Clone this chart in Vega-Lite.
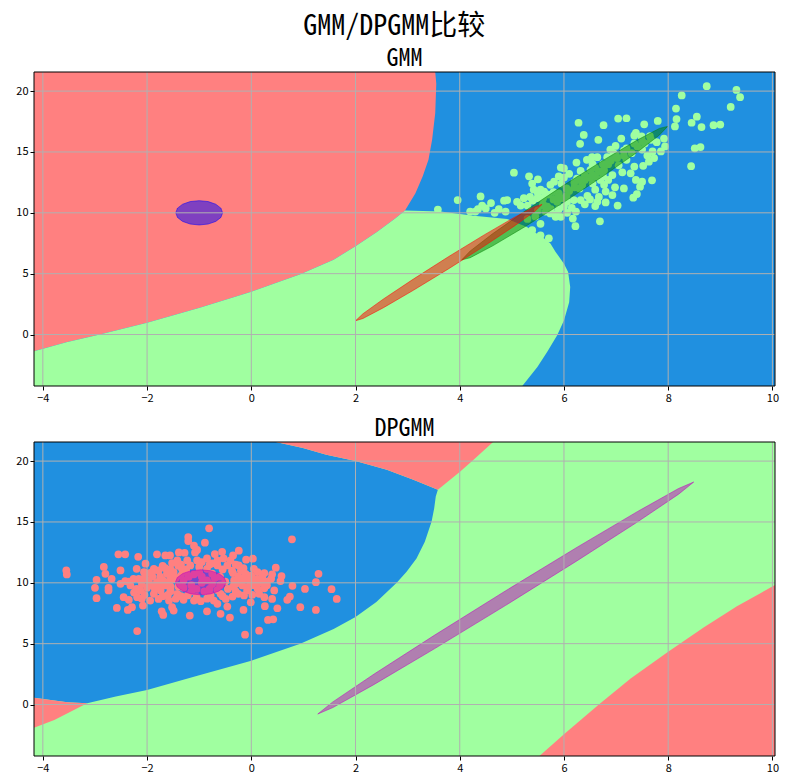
{"$schema":"https://vega.github.io/schema/vega-lite/v6.json","padding":{"left":15,"top":12,"right":5,"bottom":5},"title":{"text":"GMM/DPGMM比较","fontSize":28,"font":"Noto Sans Mono CJK SC, Noto Sans CJK SC","fontWeight":"normal","anchor":"middle","offset":6,"dx":-3},"config":{"view":{"stroke":null},"title":{"font":"Noto Sans Mono CJK SC, Noto Sans CJK SC","fontWeight":"normal"},"axis":{"grid":false,"domain":false,"tickColor":"#000","tickSize":4,"labelFont":"Noto Sans CJK SC","labelFontSize":11,"labelColor":"#000","title":null}},
"datasets":{
"regionsA":[
{"poly":"bg","cls":"blue","o":0,"x":-4.17,"y":-4.23},{"poly":"bg","cls":"blue","o":1,"x":10.05,"y":-4.23},{"poly":"bg","cls":"blue","o":2,"x":10.05,"y":21.57},{"poly":"bg","cls":"blue","o":3,"x":-4.17,"y":21.57},{"poly":"bg","cls":"blue","o":4,"x":-4.17,"y":-4.23},
{"poly":"p","cls":"pink","o":0,"x":-4.17,"y":21.57},{"poly":"p","cls":"pink","o":1,"x":3.53,"y":21.57},{"poly":"p","cls":"pink","o":2,"x":3.55,"y":20.6},{"poly":"p","cls":"pink","o":3,"x":3.53,"y":18.2},{"poly":"p","cls":"pink","o":4,"x":3.47,"y":16},{"poly":"p","cls":"pink","o":5,"x":3.4,"y":14.35},{"poly":"p","cls":"pink","o":6,"x":3.29,"y":13},{"poly":"p","cls":"pink","o":7,"x":3.15,"y":11.6},{"poly":"p","cls":"pink","o":8,"x":2.95,"y":10.2},{"poly":"p","cls":"pink","o":9,"x":2.76,"y":9.53},{"poly":"p","cls":"pink","o":10,"x":2.41,"y":8.43},{"poly":"p","cls":"pink","o":11,"x":2,"y":7.25},{"poly":"p","cls":"pink","o":12,"x":1.58,"y":6.15},{"poly":"p","cls":"pink","o":13,"x":0.94,"y":4.95},{"poly":"p","cls":"pink","o":14,"x":0,"y":3.52},{"poly":"p","cls":"pink","o":15,"x":-0.99,"y":2.2},{"poly":"p","cls":"pink","o":16,"x":-2,"y":0.96},{"poly":"p","cls":"pink","o":17,"x":-2.91,"y":0},{"poly":"p","cls":"pink","o":18,"x":-3.55,"y":-0.63},{"poly":"p","cls":"pink","o":19,"x":-4.17,"y":-1.37},{"poly":"p","cls":"pink","o":20,"x":-4.17,"y":21.57},
{"poly":"g","cls":"green","o":0,"x":-4.17,"y":-4.23},{"poly":"g","cls":"green","o":1,"x":-4.17,"y":-1.37},{"poly":"g","cls":"green","o":2,"x":-3.55,"y":-0.63},{"poly":"g","cls":"green","o":3,"x":-2.91,"y":0},{"poly":"g","cls":"green","o":4,"x":-2,"y":0.96},{"poly":"g","cls":"green","o":5,"x":-0.99,"y":2.2},{"poly":"g","cls":"green","o":6,"x":0,"y":3.52},{"poly":"g","cls":"green","o":7,"x":0.94,"y":4.95},{"poly":"g","cls":"green","o":8,"x":1.58,"y":6.15},{"poly":"g","cls":"green","o":9,"x":2,"y":7.25},{"poly":"g","cls":"green","o":10,"x":2.41,"y":8.43},{"poly":"g","cls":"green","o":11,"x":2.76,"y":9.53},{"poly":"g","cls":"green","o":12,"x":2.95,"y":10.2},{"poly":"g","cls":"green","o":13,"x":3.63,"y":10.1},{"poly":"g","cls":"green","o":14,"x":4.27,"y":9.75},{"poly":"g","cls":"green","o":15,"x":4.91,"y":9.5},{"poly":"g","cls":"green","o":16,"x":5.29,"y":8.84},{"poly":"g","cls":"green","o":17,"x":5.62,"y":7.88},{"poly":"g","cls":"green","o":18,"x":5.74,"y":7.47},{"poly":"g","cls":"green","o":19,"x":5.84,"y":6.79},{"poly":"g","cls":"green","o":20,"x":6,"y":5.82},{"poly":"g","cls":"green","o":21,"x":6.08,"y":5.14},{"poly":"g","cls":"green","o":22,"x":6.12,"y":3.9},{"poly":"g","cls":"green","o":23,"x":6.1,"y":2.66},{"poly":"g","cls":"green","o":24,"x":6,"y":1.15},{"poly":"g","cls":"green","o":25,"x":5.87,"y":-0.05},{"poly":"g","cls":"green","o":26,"x":5.68,"y":-1.42},{"poly":"g","cls":"green","o":27,"x":5.49,"y":-2.66},{"poly":"g","cls":"green","o":28,"x":5.2,"y":-4.23},{"poly":"g","cls":"green","o":29,"x":-4.17,"y":-4.23}],
"regionsB":[
{"poly":"bg","cls":"green","o":0,"x":-4.17,"y":-4.23},{"poly":"bg","cls":"green","o":1,"x":10.05,"y":-4.23},{"poly":"bg","cls":"green","o":2,"x":10.05,"y":21.57},{"poly":"bg","cls":"green","o":3,"x":-4.17,"y":21.57},{"poly":"bg","cls":"green","o":4,"x":-4.17,"y":-4.23},
{"poly":"b","cls":"blue","o":0,"x":-4.17,"y":21.57},{"poly":"b","cls":"blue","o":1,"x":0.47,"y":21.57},{"poly":"b","cls":"blue","o":2,"x":0.99,"y":21.07},{"poly":"b","cls":"blue","o":3,"x":1.44,"y":20.52},{"poly":"b","cls":"blue","o":4,"x":2,"y":20},{"poly":"b","cls":"blue","o":5,"x":2.6,"y":19.29},{"poly":"b","cls":"blue","o":6,"x":3.11,"y":18.46},{"poly":"b","cls":"blue","o":7,"x":3.58,"y":17.64},{"poly":"b","cls":"blue","o":8,"x":3.54,"y":17.09},{"poly":"b","cls":"blue","o":9,"x":3.51,"y":16.13},{"poly":"b","cls":"blue","o":10,"x":3.46,"y":15.03},{"poly":"b","cls":"blue","o":11,"x":3.33,"y":13.38},{"poly":"b","cls":"blue","o":12,"x":3.17,"y":12},{"poly":"b","cls":"blue","o":13,"x":2.98,"y":10.9},{"poly":"b","cls":"blue","o":14,"x":2.79,"y":10},{"poly":"b","cls":"blue","o":15,"x":2.4,"y":8.43},{"poly":"b","cls":"blue","o":16,"x":2,"y":7.2},{"poly":"b","cls":"blue","o":17,"x":1.58,"y":6.2},{"poly":"b","cls":"blue","o":18,"x":0.94,"y":5},{"poly":"b","cls":"blue","o":19,"x":0,"y":3.6},{"poly":"b","cls":"blue","o":20,"x":-1,"y":2.4},{"poly":"b","cls":"blue","o":21,"x":-2,"y":1.2},{"poly":"b","cls":"blue","o":22,"x":-2.6,"y":0.65},{"poly":"b","cls":"blue","o":23,"x":-3.15,"y":0.1},{"poly":"b","cls":"blue","o":24,"x":-3.53,"y":0.18},{"poly":"b","cls":"blue","o":25,"x":-4.17,"y":0.56},{"poly":"b","cls":"blue","o":26,"x":-4.17,"y":21.57},
{"poly":"pt","cls":"pink","o":0,"x":0.47,"y":21.57},{"poly":"pt","cls":"pink","o":1,"x":4.64,"y":21.57},{"poly":"pt","cls":"pink","o":2,"x":4.26,"y":20.1},{"poly":"pt","cls":"pink","o":3,"x":4.01,"y":19.15},{"poly":"pt","cls":"pink","o":4,"x":3.58,"y":17.64},{"poly":"pt","cls":"pink","o":5,"x":3.11,"y":18.46},{"poly":"pt","cls":"pink","o":6,"x":2.6,"y":19.29},{"poly":"pt","cls":"pink","o":7,"x":2,"y":20},{"poly":"pt","cls":"pink","o":8,"x":1.44,"y":20.52},{"poly":"pt","cls":"pink","o":9,"x":0.99,"y":21.07},{"poly":"pt","cls":"pink","o":10,"x":0.47,"y":21.57},
{"poly":"pl","cls":"pink","o":0,"x":-4.17,"y":0.56},{"poly":"pl","cls":"pink","o":1,"x":-3.53,"y":0.18},{"poly":"pl","cls":"pink","o":2,"x":-3.15,"y":0.1},{"poly":"pl","cls":"pink","o":3,"x":-3.78,"y":-1.27},{"poly":"pl","cls":"pink","o":4,"x":-4.17,"y":-1.9},{"poly":"pl","cls":"pink","o":5,"x":-4.17,"y":0.56},
{"poly":"pr","cls":"pink","o":0,"x":5.53,"y":-4.23},{"poly":"pr","cls":"pink","o":1,"x":6,"y":-2.44},{"poly":"pr","cls":"pink","o":2,"x":6.67,"y":0},{"poly":"pr","cls":"pink","o":3,"x":7.28,"y":2.14},{"poly":"pr","cls":"pink","o":4,"x":8,"y":4.33},{"poly":"pr","cls":"pink","o":5,"x":8.68,"y":6.33},{"poly":"pr","cls":"pink","o":6,"x":9.32,"y":8.08},{"poly":"pr","cls":"pink","o":7,"x":10.05,"y":9.82},{"poly":"pr","cls":"pink","o":8,"x":10.05,"y":-4.23},{"poly":"pr","cls":"pink","o":9,"x":5.53,"y":-4.23}],
"pointsA":[{"x":8.74,"y":20.4},{"x":8.26,"y":19.64},{"x":9.31,"y":20.1},{"x":9.38,"y":19.5},{"x":9.2,"y":18.7},{"x":8.15,"y":18.57},{"x":8.16,"y":17.7},{"x":8.55,"y":17.9},{"x":8.45,"y":17.4},{"x":8.64,"y":17.05},{"x":8.87,"y":17.2},{"x":9,"y":17.25},{"x":8.13,"y":17.1},{"x":7.8,"y":17.55},{"x":7.54,"y":17.27},{"x":7.2,"y":17.77},{"x":7.04,"y":17.74},{"x":6.76,"y":17.2},{"x":6.28,"y":17.4},{"x":6.38,"y":16.4},{"x":6.31,"y":15.67},{"x":6.66,"y":16},{"x":7.38,"y":16.56},{"x":7.35,"y":16.36},{"x":7.49,"y":16.28},{"x":7.67,"y":16},{"x":7.78,"y":15.8},{"x":7.92,"y":16.1},{"x":7.94,"y":15.45},{"x":7.86,"y":15.04},{"x":7.7,"y":15.04},{"x":7.41,"y":15.45},{"x":6.99,"y":15.5},{"x":6.89,"y":15.2},{"x":8.51,"y":15.3},{"x":8.62,"y":15.4},{"x":8.44,"y":13.83},{"x":7.73,"y":14.5},{"x":7.63,"y":14.2},{"x":7.52,"y":13.86},{"x":7.35,"y":13.8},{"x":7.28,"y":13.25},{"x":7.12,"y":13.33},{"x":6.93,"y":13.1},{"x":7.2,"y":14.35},{"x":7.02,"y":14.5},{"x":6.83,"y":14.57},{"x":6.64,"y":14.57},{"x":6.54,"y":14.57},{"x":6.44,"y":14.35},{"x":6.24,"y":14.13},{"x":5.94,"y":13.72},{"x":6,"y":13.66},{"x":6.32,"y":13.44},{"x":6.51,"y":13.53},{"x":6.67,"y":13.4},{"x":6.77,"y":13.5},{"x":6.7,"y":12.7},{"x":7.38,"y":12.7},{"x":7.5,"y":12.56},{"x":7.69,"y":12.67},{"x":7.46,"y":12.15},{"x":7.15,"y":12},{"x":6.98,"y":12.1},{"x":6.77,"y":12.3},{"x":6.8,"y":11.75},{"x":6.93,"y":11.46},{"x":7.4,"y":11.54},{"x":7.33,"y":11.24},{"x":6.67,"y":11.3},{"x":6.64,"y":10.9},{"x":6.8,"y":10.85},{"x":7.03,"y":10.6},{"x":6.6,"y":10.55},{"x":6.45,"y":11.4},{"x":6.32,"y":11.05},{"x":6.19,"y":11.05},{"x":6.06,"y":10.9},{"x":5.87,"y":10.9},{"x":6.69,"y":9.3},{"x":6.23,"y":10.1},{"x":6.17,"y":9.53},{"x":6.22,"y":8.9},{"x":6.06,"y":10},{"x":5.94,"y":9.67},{"x":5.84,"y":9.67},{"x":5.74,"y":9.95},{"x":5.71,"y":7.9},{"x":5.55,"y":8.15},{"x":5.39,"y":8.57},{"x":5.55,"y":9.1},{"x":5.04,"y":13.3},{"x":5.33,"y":13},{"x":5.5,"y":12.75},{"x":5.39,"y":12.4},{"x":5.42,"y":11.9},{"x":5.55,"y":11.9},{"x":5.62,"y":11.75},{"x":5.49,"y":11.2},{"x":5.81,"y":12.56},{"x":5.9,"y":13},{"x":5.74,"y":12.3},{"x":5.8,"y":11.7},{"x":5.23,"y":11.2},{"x":5.17,"y":10.6},{"x":5.3,"y":10.6},{"x":4.91,"y":11.05},{"x":4.85,"y":11},{"x":4.88,"y":10.1},{"x":4.67,"y":10},{"x":4.5,"y":10.36},{"x":4.43,"y":10.6},{"x":4.4,"y":11.35},{"x":4.3,"y":10.1},{"x":3.96,"y":11.05},{"x":3.58,"y":10.27},{"x":5.68,"y":10.5},{"x":6.2,"y":12.1},{"x":6.35,"y":12.3},{"x":6.5,"y":12.9},{"x":6.1,"y":11.8},{"x":6.6,"y":13},{"x":5.5,"y":10.2},{"x":5.9,"y":10.3},
{"x":5.5,"y":11.6},{"x":5.6,"y":11.2},{"x":5.7,"y":11.5},{"x":5.95,"y":12.4},{"x":6.0,"y":12.9},{"x":6.1,"y":13.2},{"x":6.25,"y":12.8},{"x":6.4,"y":13.1},{"x":6.55,"y":12.4},{"x":6.6,"y":11.9},{"x":6.75,"y":13},{"x":6.85,"y":12.7},{"x":6.55,"y":14},{"x":6.85,"y":14},{"x":7.05,"y":13.9},{"x":6.95,"y":14.9},{"x":7.5,"y":15.2},{"x":7.6,"y":14.7},{"x":7.15,"y":15.1},{"x":7.3,"y":14.9},{"x":5.95,"y":11.2},{"x":6.05,"y":11.4},{"x":6.4,"y":10.7},{"x":6.5,"y":11.1},{"x":6.0,"y":10.5},{"x":5.75,"y":10.3},{"x":5.6,"y":10.7},{"x":5.4,"y":11},{"x":5.35,"y":11.3},{"x":5.1,"y":10.9},{"x":5.45,"y":9.7},{"x":5.3,"y":9.5},{"x":5.85,"y":9.9},{"x":6.15,"y":10.4},{"x":7.1,"y":16.1},{"x":7.55,"y":15.7},{"x":4.6,"y":10.8},{"x":4.75,"y":10.3},{"x":4.2,"y":10.1},{"x":4.35,"y":10.3},
{"x":5.6,"y":10.6},{"x":5.8,"y":11.1},{"x":5.9,"y":11.6},{"x":6.05,"y":12},{"x":6.2,"y":12.5},{"x":6.3,"y":12},{"x":6.4,"y":12.7},{"x":6.55,"y":13.1},{"x":6.6,"y":13.7},{"x":6.75,"y":14},{"x":6.9,"y":14.3},{"x":7,"y":14.7},{"x":7.15,"y":14.7},{"x":7.2,"y":15.3},{"x":7.35,"y":15.7},{"x":7.5,"y":15.9},{"x":7.65,"y":16.3},{"x":5.65,"y":10.1},{"x":5.9,"y":11.3},{"x":6.3,"y":12.7}],
"pointsB":[{"x":-0.81,"y":14.48},{"x":0.78,"y":13.57},{"x":-1.21,"y":13.76},{"x":-1.21,"y":13.43},{"x":-0.89,"y":13.3},{"x":-1.1,"y":13.05},{"x":-1.04,"y":12.7},{"x":-1.08,"y":12.5},{"x":-2.55,"y":12.34},{"x":-2.42,"y":12.34},{"x":-2.17,"y":12.14},{"x":-1.81,"y":12.34},{"x":-1.65,"y":12.25},{"x":-1.56,"y":12.25},{"x":-1.39,"y":12.5},{"x":-1.28,"y":12.47},{"x":-0.7,"y":12.36},{"x":-0.56,"y":12.55},{"x":-0.24,"y":12.64},{"x":-0.35,"y":12.25},{"x":-0.85,"y":12},{"x":-1.04,"y":11.84},{"x":-1.42,"y":11.84},{"x":-1.52,"y":11.62},{"x":-2.03,"y":11.57},{"x":-1.23,"y":11.84},{"x":-0.65,"y":11.84},{"x":-0.53,"y":12},{"x":-0.4,"y":11.84},{"x":-0.24,"y":11.43},{"x":-0.1,"y":11.9},{"x":0.03,"y":11.98},{"x":0.47,"y":11.24},{"x":-2.83,"y":11.3},{"x":-3.55,"y":11.02},{"x":-3.54,"y":10.69},{"x":-2.51,"y":11.02},{"x":-2.2,"y":11.15},{"x":-2.8,"y":10.74},{"x":-2.68,"y":10.33},{"x":-2.97,"y":10.25},{"x":-3,"y":9.59},{"x":-2.74,"y":9.59},{"x":-2.74,"y":9.37},{"x":-2.97,"y":8.74},{"x":-2.58,"y":7.94},{"x":-2.45,"y":8.82},{"x":-2.35,"y":8.6},{"x":-2.19,"y":8.82},{"x":-2.37,"y":7.77},{"x":-2.29,"y":8},{"x":-2.08,"y":8.13},{"x":-2.19,"y":6.04},{"x":-2.51,"y":9.92},{"x":-2.42,"y":10.14},{"x":-2.32,"y":9.78},{"x":-2.26,"y":10.33},{"x":-2.16,"y":10.33},{"x":-2.13,"y":9.37},{"x":-2.2,"y":9.5},{"x":-2.06,"y":10.88},{"x":-1.87,"y":11.15},{"x":-1.78,"y":11.02},{"x":-1.62,"y":10.74},{"x":-1.97,"y":10.2},{"x":-1.81,"y":10.05},{"x":-1.65,"y":9.78},{"x":-1.74,"y":9.37},{"x":-1.87,"y":9.1},{"x":-1.94,"y":8.54},{"x":-1.78,"y":8.68},{"x":-1.58,"y":8.54},{"x":-1.52,"y":8},{"x":-1.49,"y":7.72},{"x":-1.72,"y":7.66},{"x":-1.69,"y":7.36},{"x":-1.18,"y":7.31},{"x":-0.85,"y":7.66},{"x":-0.59,"y":7.45},{"x":-0.41,"y":7.14},{"x":-0.15,"y":7.77},{"x":-0.01,"y":8.4},{"x":-0.46,"y":8.05},{"x":-0.65,"y":8.27},{"x":-0.49,"y":8.68},{"x":-0.36,"y":8.87},{"x":-1.3,"y":8.6},{"x":-1.1,"y":8.54},{"x":-0.97,"y":8.49},{"x":-0.72,"y":8.54},{"x":-0.12,"y":5.74},{"x":0.15,"y":6.07},{"x":0.32,"y":6.95},{"x":0.42,"y":7},{"x":0.26,"y":8.08},{"x":0.5,"y":7.91},{"x":0.25,"y":8.82},{"x":0.4,"y":8.68},{"x":0.44,"y":9.37},{"x":0.94,"y":8},{"x":1.24,"y":7.77},{"x":0.69,"y":8.6},{"x":0.74,"y":8.87},{"x":0.79,"y":9.75},{"x":1.03,"y":9.5},{"x":1.24,"y":10.05},{"x":1.29,"y":10.74},{"x":1.54,"y":9.48},{"x":1.64,"y":8.68},{"x":0.58,"y":10.55},{"x":0.56,"y":10.14},{"x":0.38,"y":10.33},{"x":0.21,"y":10.47},{"x":0.05,"y":11.15},{"x":0.12,"y":10.88},{"x":-0.11,"y":10.74},{"x":-0.17,"y":9.78},{"x":-0.08,"y":9.37},{"x":0.12,"y":9.5},{"x":0,"y":10.05},{"x":-0.14,"y":8.96},{"x":0.24,"y":10.05},{"x":-0.37,"y":11},{"x":-0.46,"y":11.43},{"x":-0.65,"y":11.43},{"x":-0.85,"y":11.15},{"x":-1.17,"y":11.43},{"x":-1.33,"y":11.15},{"x":-1.49,"y":10.88},{"x":-1.62,"y":10.05},{"x":-1.42,"y":9.1},{"x":-1.22,"y":8.96},{"x":-0.78,"y":8.96},{"x":-0.59,"y":9.1},{"x":-0.33,"y":10.2},{"x":-1.45,"y":10.4},{"x":-1.3,"y":9.6},{"x":-1.1,"y":10.7},{"x":-0.8,"y":9.5},{"x":-0.6,"y":10.5},{"x":-0.95,"y":10},{"x":-0.6,"y":9.8},{"x":-1.35,"y":10.6},
{"x":-2,"y":9.6},{"x":-2.05,"y":9},{"x":-1.9,"y":9.8},{"x":-1.75,"y":10.5},{"x":-1.95,"y":10.8},{"x":-1.55,"y":11.1},{"x":-1.7,"y":11.4},{"x":-1.4,"y":11.4},{"x":-1.55,"y":9.4},{"x":-1.6,"y":9},{"x":-1.45,"y":8.7},{"x":-1.7,"y":8.9},{"x":-2.25,"y":9.2},{"x":-2.1,"y":8.7},{"x":-1.25,"y":11.1},{"x":-1,"y":11.3},{"x":-0.75,"y":11.6},{"x":-0.55,"y":11.1},{"x":-0.3,"y":11.5},{"x":-0.2,"y":11},{"x":-0.25,"y":10.5},{"x":-0.1,"y":10.3},{"x":-0.15,"y":11.2},{"x":0.1,"y":10.3},{"x":0.05,"y":9.8},{"x":0.25,"y":9.55},{"x":0.3,"y":10.1},{"x":0.15,"y":9.1},{"x":0.02,"y":9},{"x":-0.3,"y":9.3},{"x":-0.45,"y":9.5},{"x":-0.55,"y":8.9},{"x":-0.35,"y":9.7},{"x":-0.85,"y":8.7},{"x":-1.05,"y":8.85},{"x":-1.35,"y":8.9},{"x":-1.55,"y":9.7},{"x":-1.5,"y":10.3},{"x":-1.85,"y":9.5},{"x":-2.1,"y":9.9},{"x":-2.35,"y":10.1},{"x":-2.05,"y":10.4},{"x":-0.35,"y":10.8},{"x":0.25,"y":10.8},{"x":0.4,"y":10.7},{"x":-0.8,"y":11.5},{"x":-0.95,"y":11.7},{"x":-1.35,"y":11.5},
{"x":-1.3,"y":10.2},{"x":-1.15,"y":9.8},{"x":-1.2,"y":10.5},{"x":-1.05,"y":9.5},{"x":-0.95,"y":10.5},{"x":-0.85,"y":10.2},{"x":-0.75,"y":9.9},{"x":-0.7,"y":10.4},{"x":-0.75,"y":10.75},{"x":-0.9,"y":9.3},{"x":-1.15,"y":9.3},{"x":-0.65,"y":9.4},{"x":-1.4,"y":9.7},{"x":-0.5,"y":10.1},{"x":-1,"y":10.85},{"x":-1.25,"y":10.9},{"x":-1.9,"y":10.5},{"x":-1.7,"y":10.2},{"x":-1.75,"y":9.9},{"x":-1.8,"y":9.7},{"x":-1.55,"y":9.3},{"x":-1.65,"y":11.2},{"x":-1.9,"y":10.9},{"x":-1.55,"y":10.5},{"x":-0.2,"y":10},{"x":-0.3,"y":9.9},{"x":-0.15,"y":10.4},{"x":0,"y":10.6},{"x":0.15,"y":10},{"x":0.3,"y":9.8},{"x":-0.05,"y":9.7},{"x":-0.25,"y":9.1}],
"ellipsesA":[
{"e":"green","cls":"g","o":0,"x":4.04,"y":6.14},{"e":"green","cls":"g","o":1,"x":4.198,"y":6.851},{"e":"green","cls":"g","o":2,"x":4.632,"y":8.284},{"e":"green","cls":"g","o":3,"x":5.265,"y":10.182},{"e":"green","cls":"g","o":4,"x":6.015,"y":12.32},{"e":"green","cls":"g","o":5,"x":6.766,"y":14.346},{"e":"green","cls":"g","o":6,"x":7.398,"y":15.956},{"e":"green","cls":"g","o":7,"x":7.832,"y":16.935},{"e":"green","cls":"g","o":8,"x":7.99,"y":17.1},{"e":"green","cls":"g","o":9,"x":7.832,"y":16.389},{"e":"green","cls":"g","o":10,"x":7.398,"y":14.956},{"e":"green","cls":"g","o":11,"x":6.766,"y":13.058},{"e":"green","cls":"g","o":12,"x":6.015,"y":10.92},{"e":"green","cls":"g","o":13,"x":5.265,"y":8.894},{"e":"green","cls":"g","o":14,"x":4.632,"y":7.284},{"e":"green","cls":"g","o":15,"x":4.198,"y":6.305},{"e":"green","cls":"g","o":16,"x":4.04,"y":6.14},
{"e":"red","cls":"r","o":0,"x":2,"y":1.13},{"e":"red","cls":"r","o":1,"x":2.143,"y":1.707},{"e":"red","cls":"r","o":2,"x":2.537,"y":2.921},{"e":"red","cls":"r","o":3,"x":3.11,"y":4.554},{"e":"red","cls":"r","o":4,"x":3.79,"y":6.41},{"e":"red","cls":"r","o":5,"x":4.47,"y":8.186},{"e":"red","cls":"r","o":6,"x":5.043,"y":9.613},{"e":"red","cls":"r","o":7,"x":5.437,"y":10.503},{"e":"red","cls":"r","o":8,"x":5.58,"y":10.69},{"e":"red","cls":"r","o":9,"x":5.437,"y":10.113},{"e":"red","cls":"r","o":10,"x":5.043,"y":8.899},{"e":"red","cls":"r","o":11,"x":4.47,"y":7.266},{"e":"red","cls":"r","o":12,"x":3.79,"y":5.41},{"e":"red","cls":"r","o":13,"x":3.11,"y":3.634},{"e":"red","cls":"r","o":14,"x":2.537,"y":2.207},{"e":"red","cls":"r","o":15,"x":2.143,"y":1.317},{"e":"red","cls":"r","o":16,"x":2,"y":1.13},
{"e":"blue","cls":"b","o":0,"x":-0.55,"y":10},{"e":"blue","cls":"b","o":1,"x":-0.584,"y":10.383},{"e":"blue","cls":"b","o":2,"x":-0.682,"y":10.707},{"e":"blue","cls":"b","o":3,"x":-0.828,"y":10.924},{"e":"blue","cls":"b","o":4,"x":-1,"y":11},{"e":"blue","cls":"b","o":5,"x":-1.172,"y":10.924},{"e":"blue","cls":"b","o":6,"x":-1.318,"y":10.707},{"e":"blue","cls":"b","o":7,"x":-1.416,"y":10.383},{"e":"blue","cls":"b","o":8,"x":-1.45,"y":10},{"e":"blue","cls":"b","o":9,"x":-1.416,"y":9.617},{"e":"blue","cls":"b","o":10,"x":-1.318,"y":9.293},{"e":"blue","cls":"b","o":11,"x":-1.172,"y":9.076},{"e":"blue","cls":"b","o":12,"x":-1,"y":9},{"e":"blue","cls":"b","o":13,"x":-0.828,"y":9.076},{"e":"blue","cls":"b","o":14,"x":-0.682,"y":9.293},{"e":"blue","cls":"b","o":15,"x":-0.584,"y":9.617},{"e":"blue","cls":"b","o":16,"x":-0.55,"y":10}],
"ellipsesB":[
{"e":"long","cls":"m","o":0,"x":1.276,"y":-0.78},{"e":"long","cls":"m","o":1,"x":1.565,"y":0.216},{"e":"long","cls":"m","o":2,"x":2.358,"y":2.507},{"e":"long","cls":"m","o":3,"x":3.512,"y":5.684},{"e":"long","cls":"m","o":4,"x":4.883,"y":9.35},{"e":"long","cls":"m","o":5,"x":6.254,"y":12.926},{"e":"long","cls":"m","o":6,"x":7.408,"y":15.849},{"e":"long","cls":"m","o":7,"x":8.201,"y":17.752},{"e":"long","cls":"m","o":8,"x":8.49,"y":18.28},{"e":"long","cls":"m","o":9,"x":8.201,"y":17.284},{"e":"long","cls":"m","o":10,"x":7.408,"y":14.993},{"e":"long","cls":"m","o":11,"x":6.254,"y":11.816},{"e":"long","cls":"m","o":12,"x":4.883,"y":8.15},{"e":"long","cls":"m","o":13,"x":3.512,"y":4.574},{"e":"long","cls":"m","o":14,"x":2.358,"y":1.651},{"e":"long","cls":"m","o":15,"x":1.565,"y":-0.252},{"e":"long","cls":"m","o":16,"x":1.276,"y":-0.78},
{"e":"round","cls":"m","o":0,"x":-0.483,"y":10.04},{"e":"round","cls":"m","o":1,"x":-0.52,"y":10.434},{"e":"round","cls":"m","o":2,"x":-0.626,"y":10.768},{"e":"round","cls":"m","o":3,"x":-0.784,"y":10.992},{"e":"round","cls":"m","o":4,"x":-0.97,"y":11.07},{"e":"round","cls":"m","o":5,"x":-1.156,"y":10.992},{"e":"round","cls":"m","o":6,"x":-1.314,"y":10.768},{"e":"round","cls":"m","o":7,"x":-1.42,"y":10.434},{"e":"round","cls":"m","o":8,"x":-1.457,"y":10.04},{"e":"round","cls":"m","o":9,"x":-1.42,"y":9.646},{"e":"round","cls":"m","o":10,"x":-1.314,"y":9.312},{"e":"round","cls":"m","o":11,"x":-1.156,"y":9.088},{"e":"round","cls":"m","o":12,"x":-0.97,"y":9.01},{"e":"round","cls":"m","o":13,"x":-0.784,"y":9.088},{"e":"round","cls":"m","o":14,"x":-0.626,"y":9.312},{"e":"round","cls":"m","o":15,"x":-0.52,"y":9.646},{"e":"round","cls":"m","o":16,"x":-0.483,"y":10.04}],
"gx":[{"v":-4},{"v":-2},{"v":0},{"v":2},{"v":4},{"v":6},{"v":8},{"v":10}],
"gy":[{"v":0},{"v":5},{"v":10},{"v":15},{"v":20}],
"frame":[{"x0":-4.17,"x1":10.05,"y0":-4.23,"y1":21.57}]},
"spacing":13,
"vconcat":[
{"width":741,"height":314,"title":{"text":"GMM","fontSize":24,"offset":1},"layer":[
{"data":{"name":"regionsA"},"mark":{"type":"line","strokeWidth":0,"interpolate":"linear"},"encoding":{"x":{"field":"x","type":"quantitative","scale":{"domain":[-4.17,10.05],"nice":false,"zero":false},"axis":{"values":[-4,-2,0,2,4,6,8,10],"format":"d","zindex":1}},"y":{"field":"y","type":"quantitative","scale":{"domain":[-4.23,21.57],"nice":false,"zero":false},"axis":{"values":[0,5,10,15,20],"format":"d","zindex":1}},"order":{"field":"o","type":"quantitative"},"detail":{"field":"poly"},"fill":{"field":"cls","type":"nominal","legend":null,"scale":{"domain":["pink","green","blue"],"range":["#FF8080","#A0FFA0","#2090E0"]}}}},
{"data":{"name":"pointsA"},"mark":{"type":"circle","size":60,"opacity":1,"color":"#A0FFA0"},"encoding":{"x":{"field":"x","type":"quantitative"},"y":{"field":"y","type":"quantitative"}}},
{"data":{"name":"ellipsesA"},"mark":{"type":"line","strokeWidth":1,"fillOpacity":0.5,"strokeOpacity":0.5},"encoding":{"x":{"field":"x","type":"quantitative"},"y":{"field":"y","type":"quantitative"},"order":{"field":"o","type":"quantitative"},"detail":{"field":"e"},"fill":{"field":"cls","type":"nominal","legend":null,"scale":{"domain":["r","g","b","m"],"range":["#FF0000","#008000","#0000FF","#BF00BF"]}},"stroke":{"field":"cls","type":"nominal","legend":null,"scale":{"domain":["r","g","b","m"],"range":["#FF0000","#008000","#0000FF","#BF00BF"]}}}},
{"data":{"name":"gx"},"mark":{"type":"rule","color":"#B0B0B0","strokeWidth":1},"encoding":{"x":{"field":"v","type":"quantitative"}}},
{"data":{"name":"gy"},"mark":{"type":"rule","color":"#B0B0B0","strokeWidth":1},"encoding":{"y":{"field":"v","type":"quantitative"}}},
{"data":{"name":"frame"},"mark":{"type":"rect","filled":false,"stroke":"#000","strokeWidth":1},"encoding":{"x":{"field":"x0","type":"quantitative"},"x2":{"field":"x1"},"y":{"field":"y0","type":"quantitative"},"y2":{"field":"y1"}}}],"resolve":{"scale":{"fill":"independent","stroke":"independent"}}},
{"width":741,"height":314,"title":{"text":"DPGMM","fontSize":24,"offset":1},"layer":[
{"data":{"name":"regionsB"},"mark":{"type":"line","strokeWidth":0,"interpolate":"linear"},"encoding":{"x":{"field":"x","type":"quantitative","scale":{"domain":[-4.17,10.05],"nice":false,"zero":false},"axis":{"values":[-4,-2,0,2,4,6,8,10],"format":"d","zindex":1}},"y":{"field":"y","type":"quantitative","scale":{"domain":[-4.23,21.57],"nice":false,"zero":false},"axis":{"values":[0,5,10,15,20],"format":"d","zindex":1}},"order":{"field":"o","type":"quantitative"},"detail":{"field":"poly"},"fill":{"field":"cls","type":"nominal","legend":null,"scale":{"domain":["pink","green","blue"],"range":["#FF8080","#A0FFA0","#2090E0"]}}}},
{"data":{"name":"pointsB"},"mark":{"type":"circle","size":60,"opacity":1,"color":"#FF8080"},"encoding":{"x":{"field":"x","type":"quantitative"},"y":{"field":"y","type":"quantitative"}}},
{"data":{"name":"ellipsesB"},"mark":{"type":"line","strokeWidth":1,"fillOpacity":0.5,"strokeOpacity":0.5},"encoding":{"x":{"field":"x","type":"quantitative"},"y":{"field":"y","type":"quantitative"},"order":{"field":"o","type":"quantitative"},"detail":{"field":"e"},"fill":{"field":"cls","type":"nominal","legend":null,"scale":{"domain":["r","g","b","m"],"range":["#FF0000","#008000","#0000FF","#BF00BF"]}},"stroke":{"field":"cls","type":"nominal","legend":null,"scale":{"domain":["r","g","b","m"],"range":["#FF0000","#008000","#0000FF","#BF00BF"]}}}},
{"data":{"name":"gx"},"mark":{"type":"rule","color":"#B0B0B0","strokeWidth":1},"encoding":{"x":{"field":"v","type":"quantitative"}}},
{"data":{"name":"gy"},"mark":{"type":"rule","color":"#B0B0B0","strokeWidth":1},"encoding":{"y":{"field":"v","type":"quantitative"}}},
{"data":{"name":"frame"},"mark":{"type":"rect","filled":false,"stroke":"#000","strokeWidth":1},"encoding":{"x":{"field":"x0","type":"quantitative"},"x2":{"field":"x1"},"y":{"field":"y0","type":"quantitative"},"y2":{"field":"y1"}}}],"resolve":{"scale":{"fill":"independent","stroke":"independent"}}}
]}
